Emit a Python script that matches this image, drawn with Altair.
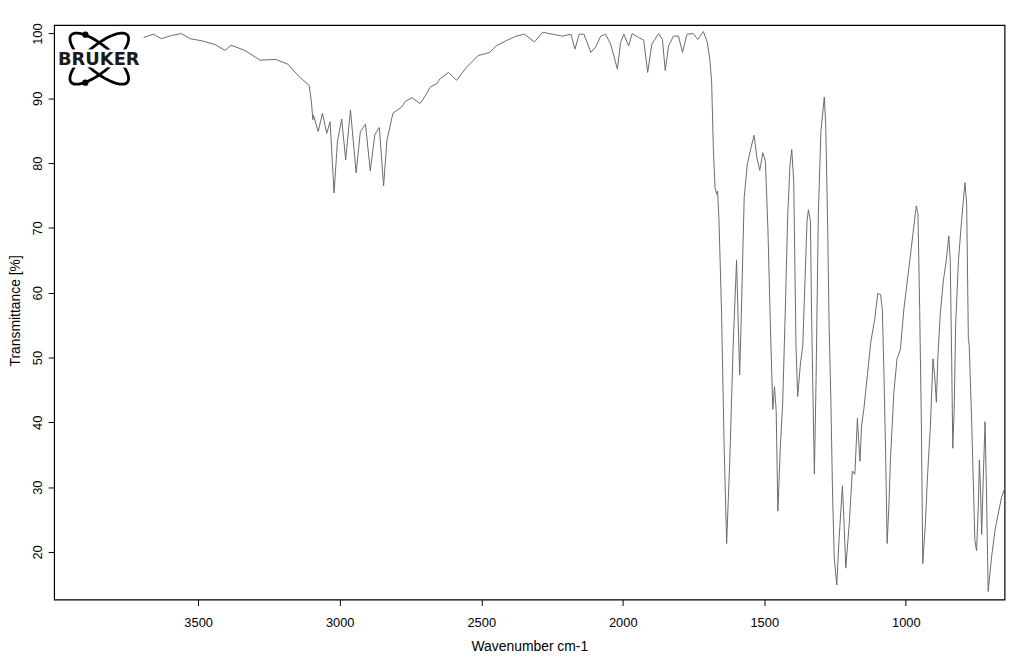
import math
import altair as alt
import pandas as pd

# ---- spectrum values (wavenumber cm-1, transmittance %) ----
wn_ch = [3693, 3658, 3630, 3595, 3560, 3528, 3489, 3440, 3405, 3384, 3335, 3282, 3226,
         3184, 3142, 3108, 3100, 3095, 3093, 3076, 3061, 3046, 3034, 3020, 3008, 2993,
         2979, 2962, 2942, 2927, 2909, 2892, 2876, 2860, 2845, 2833, 2812]
t_ch = [99.4, 99.9, 99.2, 99.7, 100.0, 99.2, 98.9, 98.3, 97.4, 98.2, 97.4, 95.9, 96.0,
        95.3, 93.3, 92.0, 89.5, 86.7, 87.4, 84.9, 87.7, 84.6, 86.4, 75.4, 83.4, 86.8,
        80.5, 88.2, 78.5, 84.9, 86.0, 78.8, 84.4, 85.5, 76.5, 83.6, 87.7]

wn_mid = [2780, 2769, 2745, 2716, 2693, 2681, 2657, 2646, 2616, 2587, 2552, 2511, 2470,
          2447, 2412, 2377, 2347, 2312, 2283, 2248, 2213, 2183, 2169, 2154, 2137, 2113,
          2096, 2078, 2061, 2043, 2019, 2008, 1996, 1979, 1967, 1944, 1926, 1912, 1897,
          1873, 1860, 1850, 1838, 1821, 1803, 1789, 1773, 1751, 1735, 1715, 1701]
t_mid = [88.7, 89.5, 90.1, 89.2, 90.7, 91.7, 92.3, 93.0, 94.0, 92.8, 94.8, 96.6, 97.1,
         98.1, 98.9, 99.6, 99.9, 98.7, 100.2, 99.9, 99.6, 99.9, 97.6, 99.9, 99.9, 97.1,
         97.9, 99.6, 99.9, 98.4, 94.5, 98.6, 99.9, 98.1, 100.0, 99.4, 99.0, 94.0, 98.4,
         100.0, 99.1, 94.3, 98.1, 99.6, 99.6, 97.1, 99.9, 100.0, 99.1, 100.3, 98.6]

wn_fp1 = [1692, 1686, 1680, 1674, 1668, 1665, 1660, 1651, 1642, 1633, 1622, 1610, 1598,
          1593, 1587, 1581, 1571, 1560, 1551, 1543, 1536, 1526, 1516, 1505, 1496, 1487,
          1478, 1470, 1464, 1458, 1452, 1443, 1435, 1426, 1417, 1409, 1403, 1396, 1388,
          1382, 1372, 1364, 1356, 1349, 1344, 1337, 1333, 1327, 1323, 1317, 1309, 1300,
          1288]
t_fp1 = [95.8, 92.5, 82.3, 76.2, 75.2, 75.7, 71.1, 56.9, 36.5, 21.3, 34.0, 51.8, 65.0,
         56.9, 47.3, 56.9, 74.7, 79.8, 81.6, 83.1, 84.3, 80.8, 78.9, 81.6, 80.3, 69.6,
         54.3, 42.0, 45.5, 41.8, 26.3, 36.5, 42.9, 56.9, 72.2, 79.8, 82.1, 77.2, 51.8,
         44.0, 49.2, 51.8, 62.0, 71.1, 72.8, 71.1, 56.9, 41.6, 32.0, 46.7, 72.2, 84.9,
         90.2]

wn_fp2 = [1283, 1276, 1271, 1265, 1259, 1253, 1244, 1236, 1224, 1218,
          1212, 1200, 1189, 1180, 1171, 1165, 1162, 1156, 1148, 1136,
          1124, 1110, 1099, 1089, 1083, 1077, 1071, 1066, 1060, 1054,
          1042, 1031, 1019, 1007, 990, 972, 963, 957, 951, 945,
          940, 931, 923, 913, 904, 898, 892, 887, 878, 867,
          857, 848, 843, 838, 834, 829, 824, 814, 803, 791,
          785, 779, 776, 767, 756, 750, 744, 740, 736, 732,
          726, 720, 715, 709, 697, 685, 674, 662, 650]
t_fp2 = [86.0, 70.1, 54.9, 44.0, 29.4, 19.2, 14.9, 21.8, 30.2, 24.3,
         17.5, 24.3, 32.5, 32.0, 40.6, 36.0, 34.0, 39.6, 42.1, 47.2,
         52.3, 55.9, 59.9, 59.7, 57.4, 47.2, 34.5, 21.3, 26.9, 34.5,
         44.7, 49.8, 51.3, 57.4, 63.5, 70.1, 73.4, 72.2, 57.4, 39.6,
         18.2, 24.3, 31.9, 39.6, 49.8, 47.2, 43.1, 49.8, 56.9, 62.0,
         65.0, 68.8, 65.0, 49.8, 36.0, 42.1, 54.9, 65.0, 71.1, 77.0,
         73.7, 52.8, 52.0, 39.6, 21.8, 20.2, 26.9, 34.2, 29.4, 22.7,
         31.9, 40.1, 29.4, 13.9, 19.2, 23.3, 25.8, 28.4, 29.9]

x_ticks = [3500, 3000, 2500, 2000, 1500, 1000]
y_ticks = [20, 30, 40, 50, 60, 70, 80, 90, 100]
x_title = "Wavenumber cm-1"
y_title = "Transmittance [%]"
logo_text = ["BRUKER"]

df = pd.DataFrame({
    "wavenumber": wn_ch + wn_mid + wn_fp1 + wn_fp2,
    "transmittance": t_ch + t_mid + t_fp1 + t_fp2,
})

FONT = "Liberation Sans, Arial, Helvetica, sans-serif"
W, H = 958, 579

spectrum = alt.Chart(df).mark_line(color="#6a6a6a", strokeWidth=1, clip=True).encode(
    x=alt.X(
        "wavenumber:Q",
        scale=alt.Scale(domain=[651, 4009], reverse=True, nice=False, zero=False),
        axis=alt.Axis(
            values=x_ticks, format="d", title=x_title, grid=False, domain=False,
            tickSize=6, tickColor="black", tickWidth=1,
            labelFont=FONT, labelFontSize=13, labelColor="black",
            labelBaseline="alphabetic", labelPadding=21, labelFlush=False,
            labelOverlap=False,
            titleFont=FONT, titleFontSize=14, titleFontWeight="normal",
            titleColor="black", titleBaseline="alphabetic", titleY=51,
        ),
    ),
    y=alt.Y(
        "transmittance:Q",
        scale=alt.Scale(domain=[12.65, 101.3], nice=False, zero=False),
        axis=alt.Axis(
            values=y_ticks, format="d", title=y_title, grid=False, domain=False,
            tickSize=6, tickColor="black", tickWidth=1,
            labelFont=FONT, labelFontSize=13, labelColor="black",
            labelAngle=270, labelAlign="center", labelBaseline="alphabetic",
            labelPadding=7, labelFlush=False, labelOverlap=False,
            titleFont=FONT, titleFontSize=14, titleFontWeight="normal",
            titleColor="black", titleAngle=270, titleAlign="center",
            titleBaseline="alphabetic", titleX=-34.5, titleY=H / 2 - 2,
        ),
    ),
)


def ellipse_path(angle_deg, ratio, n=72):
    a = math.radians(angle_deg)
    pts = []
    for i in range(n):
        t = 2 * math.pi * i / n
        ex, ey = math.cos(t), ratio * math.sin(t)
        px = ex * math.cos(a) - ey * math.sin(a)
        py = ex * math.sin(a) + ey * math.cos(a)
        pts.append(f"{px:.4f},{py:.4f}")
    return "M" + " L".join(pts) + " Z"


logo_df = pd.DataFrame({"label": logo_text})
LX, LY = 45.5, 33.8  # logo centre inside plot area (pixels)

orbit1 = alt.Chart(logo_df).mark_point(
    shape=ellipse_path(40, 0.351), size=5476, filled=False,
    stroke="black", strokeWidth=2.8, opacity=1,
).encode(x=alt.value(LX), y=alt.value(LY))
orbit2 = alt.Chart(logo_df).mark_point(
    shape=ellipse_path(-40, 0.351), size=5476, filled=False,
    stroke="black", strokeWidth=2.8, opacity=1,
).encode(x=alt.value(LX), y=alt.value(LY))
dot1 = alt.Chart(logo_df).mark_circle(color="black", size=40, opacity=1).encode(
    x=alt.value(31.5), y=alt.value(9.6))
dot2 = alt.Chart(logo_df).mark_circle(color="black", size=40, opacity=1).encode(
    x=alt.value(31.5), y=alt.value(58))
halo = alt.Chart(logo_df).mark_text(
    font="DejaVu Sans", fontWeight="bold", fontSize=18, color="white",
    stroke="white", strokeWidth=5, baseline="alphabetic", align="center",
).encode(x=alt.value(45), y=alt.value(40.6), text="label:N")
word = alt.Chart(logo_df).mark_text(
    font="DejaVu Sans", fontWeight="bold", fontSize=18, color="#1a1a1a",
    baseline="alphabetic", align="center",
).encode(x=alt.value(45), y=alt.value(40.6), text="label:N")

chart = alt.layer(spectrum, orbit1, orbit2, dot1, dot2, halo, word).properties(
    width=W, height=H, autosize="none",
    padding={"left": 46.5, "top": 14.7, "right": 11.5, "bottom": 57},
    background="white",
).configure_view(stroke="black", strokeWidth=1.2)

chart.save("out.html", embed_options={"renderer": "svg", "actions": False})
